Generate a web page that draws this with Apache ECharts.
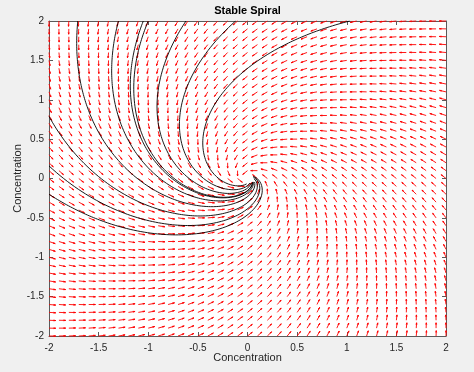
<!DOCTYPE html>
<html><head><meta charset="utf-8">
<script src="https://cdn.jsdelivr.net/npm/echarts@6/dist/echarts.min.js"></script>
<style>html,body{margin:0;padding:0;background:#f0f0f0;} #c{width:474px;height:372px;}</style>
</head><body><div id="c"></div>
<script>
// ---- data ----
const titleText = 'Stable Spiral';
const xName = 'Concentration';
const yName = 'Concentration';
const axisTickValues = [-2, -1.5, -1, -0.5, 0, 0.5, 1, 1.5, 2];
// quiver grid coordinates (same for x and y)
const gridCoords = [-2, -1.9, -1.8, -1.7, -1.6, -1.5, -1.4, -1.3, -1.2, -1.1, -1, -0.9, -0.8, -0.7, -0.6, -0.5, -0.4, -0.3, -0.2, -0.1, 0,
  0.1, 0.2, 0.3, 0.4, 0.5, 0.6, 0.7, 0.8, 0.9, 1, 1.1, 1.2, 1.3, 1.4, 1.5, 1.6, 1.7, 1.8, 1.9, 2];
// linear system x' = a*x + b*y, y' = c*x + d*y (estimated from arrow directions)
const systemRowX = [-1, -1];
const systemRowY = [1, -1];
// trajectory entry points on the top edge (x values, y = 2) and left edge (y values, x = -2)
const topEntryX = [-1.71, -1.30, -1.05, -1.00, -0.62, -0.12, 1.03];
const leftEntryY = [0.79, 0.16, -0.20];
const trajectoryDuration = 3.5;

// ---- build ----
const ARROW = 0.068;
function field(x, y) {
  return [systemRowX[0] * x + systemRowX[1] * y, systemRowY[0] * x + systemRowY[1] * y];
}
const quiverData = [];
gridCoords.forEach(function (xv) {
  gridCoords.forEach(function (yv) {
    const f = field(xv, yv);
    const n = Math.sqrt(f[0] * f[0] + f[1] * f[1]);
    const u = n > 0 ? f[0] / n * ARROW : 0;
    const v = n > 0 ? f[1] / n * ARROW : 0;
    quiverData.push([xv, yv, u, v]);
  });
});

function integrate(x0, y0) {
  const pts = [[x0, y0]];
  let x = x0, y = y0;
  const h = 0.01;
  const steps = Math.round(trajectoryDuration / h);
  for (let i = 0; i < steps; i++) {
    const k1 = field(x, y);
    const k2 = field(x + h / 2 * k1[0], y + h / 2 * k1[1]);
    const k3 = field(x + h / 2 * k2[0], y + h / 2 * k2[1]);
    const k4 = field(x + h * k3[0], y + h * k3[1]);
    x += h / 6 * (k1[0] + 2 * k2[0] + 2 * k3[0] + k4[0]);
    y += h / 6 * (k1[1] + 2 * k2[1] + 2 * k3[1] + k4[1]);
    pts.push([x, y]);
  }
  return pts;
}
const starts = topEntryX.map(function (x) { return [x, 2]; })
  .concat(leftEntryY.map(function (y) { return [-2, y]; }));

const series = [{
  type: 'custom',
  data: quiverData,
  silent: true,
  clip: false,
  renderItem: function (params, api) {
    const x = api.value(0), y = api.value(1), u = api.value(2), v = api.value(3);
    const al = 0.33, be = 0.23;
    const p0 = api.coord([x, y]);
    const tip = api.coord([x + u, y + v]);
    const h1 = api.coord([x + u - al * (u + be * v), y + v - al * (v - be * u)]);
    const h2 = api.coord([x + u - al * (u - be * v), y + v - al * (v + be * u)]);
    return {
      type: 'group',
      children: [
        { type: 'polyline', shape: { points: [p0, tip] }, style: { stroke: '#ff0000', lineWidth: 0.9, fill: null } },
        { type: 'polyline', shape: { points: [h1, tip, h2] }, style: { stroke: '#ff0000', lineWidth: 0.9, fill: null } }
      ]
    };
  }
}];
starts.forEach(function (s) {
  series.push({
    type: 'line',
    data: integrate(s[0], s[1]),
    showSymbol: false,
    symbol: 'none',
    clip: true,
    silent: true,
    animation: false,
    lineStyle: { color: '#000000', width: 0.9 }
  });
});

const axisColor = '#5a5a5a';
const font = '"Liberation Sans", Arial, Helvetica, sans-serif';
function makeAxis(pos, isX, showLabel) {
  return {
    type: 'value', position: pos, min: -2, max: 2, interval: 0.5,
    axisLine: { show: true, onZero: false, lineStyle: { color: axisColor, width: 1 } },
    axisTick: { show: true, inside: true, length: 4, lineStyle: { color: axisColor, width: 1 } },
    axisLabel: {
      show: showLabel, color: '#262626', fontSize: 10, fontFamily: font, margin: isX ? 7 : 5,
      formatter: function (val) { return axisTickValues.indexOf(val) >= 0 ? String(val) : ''; }
    },
    splitLine: { show: false }
  };
}

const chart = echarts.init(document.getElementById('c'), null, { renderer: 'canvas' });
chart.setOption({
  animation: false,
  backgroundColor: '#f0f0f0',
  grid: { left: 49, right: 28, top: 21, bottom: 36, show: true, backgroundColor: '#ffffff', borderWidth: 0,
    containLabel: false, outerBoundsMode: 'none' },
  xAxis: [makeAxis('bottom', true, true), makeAxis('top', true, false)],
  yAxis: [makeAxis('left', false, true), makeAxis('right', false, false)],
  graphic: [{
    type: 'text', x: 247.5, y: 11,
    style: { text: titleText, font: 'bold 11px ' + font, fill: '#000000', align: 'center', verticalAlign: 'middle', textAlign: 'center', textVerticalAlign: 'middle' }
  }, {
    type: 'text', x: 247.5, y: 358,
    style: { text: xName, font: '11px ' + font, fill: '#262626', align: 'center', verticalAlign: 'middle', textAlign: 'center', textVerticalAlign: 'middle' }
  }, {
    type: 'text', x: 18, y: 178.5, rotation: Math.PI / 2,
    style: { text: yName, font: '11px ' + font, fill: '#262626', align: 'center', verticalAlign: 'middle', textAlign: 'center', textVerticalAlign: 'middle' }
  }],
  series: series
});
</script></body></html>
